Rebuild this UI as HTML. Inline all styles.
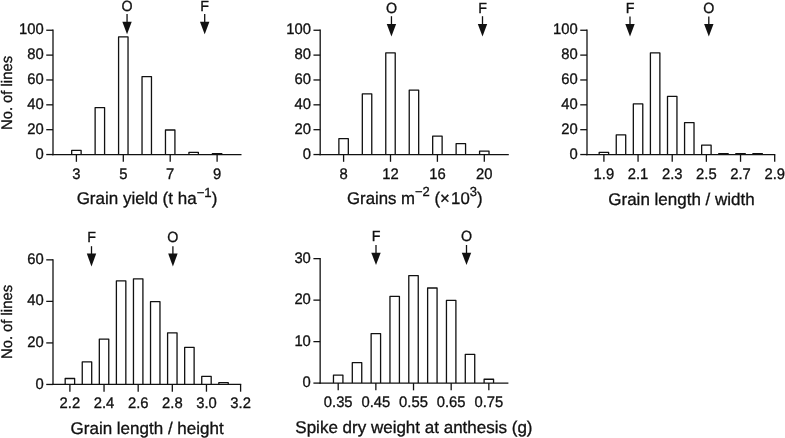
<!DOCTYPE html>
<html lang="en">
<head>
<meta charset="utf-8">
<title>Histograms</title>
<style>
html,body{margin:0;padding:0;background:#fff;}
body{width:785px;height:438px;overflow:hidden;}
svg{display:block;}
svg text{font-family:"Liberation Sans", Arial, sans-serif;fill:#111;stroke:#111;stroke-width:0.32px;text-rendering:geometricPrecision;}
svg line,svg polyline{stroke:#111;}
</style>
</head>
<body>
<svg width="785" height="438" viewBox="0 0 785 438">
<rect x="0" y="0" width="785" height="438" fill="#fff" stroke="none" style="stroke:none"/>
<polyline points="71.68,154.55 71.68,150.38 81.13,150.38 81.13,154.55" fill="#fff" stroke-width="1.3" stroke-linejoin="round"/>
<polyline points="95.13,154.55 95.13,107.62 104.58,107.62 104.58,154.55" fill="#fff" stroke-width="1.3" stroke-linejoin="round"/>
<polyline points="118.58,154.55 118.58,36.89 128.03,36.89 128.03,154.55" fill="#fff" stroke-width="1.3" stroke-linejoin="round"/>
<polyline points="142.03,154.55 142.03,76.54 151.47,76.54 151.47,154.55" fill="#fff" stroke-width="1.3" stroke-linejoin="round"/>
<polyline points="165.47,154.55 165.47,129.99 174.92,129.99 174.92,154.55" fill="#fff" stroke-width="1.3" stroke-linejoin="round"/>
<polyline points="188.93,154.55 188.93,152.36 198.38,152.36 198.38,154.55" fill="#fff" stroke-width="1.3" stroke-linejoin="round"/>
<polyline points="212.38,154.55 212.38,153.61 221.82,153.61 221.82,154.55" fill="#fff" stroke-width="1.3" stroke-linejoin="round"/>
<line x1="53.00" y1="29.60" x2="53.00" y2="155.20" stroke-width="1.3"/>
<line x1="46.25" y1="154.55" x2="53.00" y2="154.55" stroke-width="1.3"/>
<text transform="translate(43.70,158.65) scale(0.968,1)" font-size="15.3" text-anchor="end" >0</text>
<line x1="46.25" y1="129.69" x2="53.00" y2="129.69" stroke-width="1.3"/>
<text transform="translate(43.70,133.79) scale(0.968,1)" font-size="15.3" text-anchor="end" >20</text>
<line x1="46.25" y1="104.83" x2="53.00" y2="104.83" stroke-width="1.3"/>
<text transform="translate(43.70,108.93) scale(0.968,1)" font-size="15.3" text-anchor="end" >40</text>
<line x1="46.25" y1="79.97" x2="53.00" y2="79.97" stroke-width="1.3"/>
<text transform="translate(43.70,84.07) scale(0.968,1)" font-size="15.3" text-anchor="end" >60</text>
<line x1="46.25" y1="55.11" x2="53.00" y2="55.11" stroke-width="1.3"/>
<text transform="translate(43.70,59.21) scale(0.968,1)" font-size="15.3" text-anchor="end" >80</text>
<line x1="46.25" y1="30.25" x2="53.00" y2="30.25" stroke-width="1.3"/>
<text transform="translate(43.70,34.35) scale(0.968,1)" font-size="15.3" text-anchor="end" >100</text>
<line x1="52.35" y1="154.55" x2="241.50" y2="154.55" stroke-width="1.3"/>
<line x1="76.40" y1="154.55" x2="76.40" y2="161.80" stroke-width="1.3"/>
<text transform="translate(76.40,178.50) scale(0.968,1)" font-size="15.3" text-anchor="middle" >3</text>
<line x1="123.30" y1="154.55" x2="123.30" y2="161.80" stroke-width="1.3"/>
<text transform="translate(123.30,178.50) scale(0.968,1)" font-size="15.3" text-anchor="middle" >5</text>
<line x1="170.20" y1="154.55" x2="170.20" y2="161.80" stroke-width="1.3"/>
<text transform="translate(170.20,178.50) scale(0.968,1)" font-size="15.3" text-anchor="middle" >7</text>
<line x1="217.10" y1="154.55" x2="217.10" y2="161.80" stroke-width="1.3"/>
<text transform="translate(217.10,178.50) scale(0.968,1)" font-size="15.3" text-anchor="middle" >9</text>
<text transform="translate(147.00,203.90) scale(1.0,1)" font-size="17" text-anchor="middle" >Grain yield (t ha<tspan font-size="13.2" dy="-7.2">−1</tspan><tspan dy="7.2">)</tspan></text>
<text transform="translate(127.05,11.45) scale(0.97,1)" font-size="14.7" text-anchor="middle" >O</text>
<line x1="127.05" y1="13.90" x2="127.05" y2="22.70" stroke-width="1.3"/>
<polygon points="122.35,21.70 131.75,21.70 127.05,34.30" fill="#111" stroke="none"/>
<text transform="translate(204.70,11.45) scale(0.97,1)" font-size="14.7" text-anchor="middle" >F</text>
<line x1="204.70" y1="13.90" x2="204.70" y2="22.70" stroke-width="1.3"/>
<polygon points="200.00,21.70 209.40,21.70 204.70,34.30" fill="#111" stroke="none"/>
<text transform="translate(11.60,93.00) rotate(-90) scale(0.968,1)" font-size="15.3" text-anchor="middle">No. of lines</text>
<polyline points="338.88,154.55 338.88,138.69 348.32,138.69 348.32,154.55" fill="#fff" stroke-width="1.3" stroke-linejoin="round"/>
<polyline points="362.32,154.55 362.32,93.94 371.77,93.94 371.77,154.55" fill="#fff" stroke-width="1.3" stroke-linejoin="round"/>
<polyline points="385.77,154.55 385.77,52.92 395.22,52.92 395.22,154.55" fill="#fff" stroke-width="1.3" stroke-linejoin="round"/>
<polyline points="409.23,154.55 409.23,90.21 418.68,90.21 418.68,154.55" fill="#fff" stroke-width="1.3" stroke-linejoin="round"/>
<polyline points="432.68,154.55 432.68,136.21 442.12,136.21 442.12,154.55" fill="#fff" stroke-width="1.3" stroke-linejoin="round"/>
<polyline points="456.12,154.55 456.12,143.66 465.57,143.66 465.57,154.55" fill="#fff" stroke-width="1.3" stroke-linejoin="round"/>
<polyline points="479.57,154.55 479.57,151.12 489.02,151.12 489.02,154.55" fill="#fff" stroke-width="1.3" stroke-linejoin="round"/>
<line x1="320.20" y1="29.60" x2="320.20" y2="155.20" stroke-width="1.3"/>
<line x1="313.45" y1="154.55" x2="320.20" y2="154.55" stroke-width="1.3"/>
<text transform="translate(310.90,158.65) scale(0.968,1)" font-size="15.3" text-anchor="end" >0</text>
<line x1="313.45" y1="129.69" x2="320.20" y2="129.69" stroke-width="1.3"/>
<text transform="translate(310.90,133.79) scale(0.968,1)" font-size="15.3" text-anchor="end" >20</text>
<line x1="313.45" y1="104.83" x2="320.20" y2="104.83" stroke-width="1.3"/>
<text transform="translate(310.90,108.93) scale(0.968,1)" font-size="15.3" text-anchor="end" >40</text>
<line x1="313.45" y1="79.97" x2="320.20" y2="79.97" stroke-width="1.3"/>
<text transform="translate(310.90,84.07) scale(0.968,1)" font-size="15.3" text-anchor="end" >60</text>
<line x1="313.45" y1="55.11" x2="320.20" y2="55.11" stroke-width="1.3"/>
<text transform="translate(310.90,59.21) scale(0.968,1)" font-size="15.3" text-anchor="end" >80</text>
<line x1="313.45" y1="30.25" x2="320.20" y2="30.25" stroke-width="1.3"/>
<text transform="translate(310.90,34.35) scale(0.968,1)" font-size="15.3" text-anchor="end" >100</text>
<line x1="319.55" y1="154.55" x2="508.80" y2="154.55" stroke-width="1.3"/>
<line x1="343.60" y1="154.55" x2="343.60" y2="161.80" stroke-width="1.3"/>
<text transform="translate(343.60,178.50) scale(0.968,1)" font-size="15.3" text-anchor="middle" >8</text>
<line x1="390.50" y1="154.55" x2="390.50" y2="161.80" stroke-width="1.3"/>
<text transform="translate(390.50,178.50) scale(0.968,1)" font-size="15.3" text-anchor="middle" >12</text>
<line x1="437.40" y1="154.55" x2="437.40" y2="161.80" stroke-width="1.3"/>
<text transform="translate(437.40,178.50) scale(0.968,1)" font-size="15.3" text-anchor="middle" >16</text>
<line x1="484.30" y1="154.55" x2="484.30" y2="161.80" stroke-width="1.3"/>
<text transform="translate(484.30,178.50) scale(0.968,1)" font-size="15.3" text-anchor="middle" >20</text>
<text transform="translate(414.80,203.50) scale(0.985,1)" font-size="17" text-anchor="middle" >Grains m<tspan font-size="13.2" dy="-7.2">−2</tspan><tspan dy="7.2"> (×<tspan dx="1.3">10</tspan></tspan><tspan font-size="13.2" dy="-7.2">3</tspan><tspan dy="7.2">)</tspan></text>
<text transform="translate(391.45,13.30) scale(0.97,1)" font-size="14.7" text-anchor="middle" >O</text>
<line x1="391.45" y1="16.20" x2="391.45" y2="25.00" stroke-width="1.3"/>
<polygon points="386.75,24.00 396.15,24.00 391.45,36.50" fill="#111" stroke="none"/>
<text transform="translate(482.50,13.30) scale(0.97,1)" font-size="14.7" text-anchor="middle" >F</text>
<line x1="482.50" y1="16.20" x2="482.50" y2="25.00" stroke-width="1.3"/>
<polygon points="477.80,24.00 487.20,24.00 482.50,36.50" fill="#111" stroke="none"/>
<polyline points="599.17,154.55 599.17,152.36 608.62,152.36 608.62,154.55" fill="#fff" stroke-width="1.3" stroke-linejoin="round"/>
<polyline points="616.25,154.55 616.25,134.96 625.71,134.96 625.71,154.55" fill="#fff" stroke-width="1.3" stroke-linejoin="round"/>
<polyline points="633.33,154.55 633.33,103.89 642.78,103.89 642.78,154.55" fill="#fff" stroke-width="1.3" stroke-linejoin="round"/>
<polyline points="650.41,154.55 650.41,52.92 659.87,52.92 659.87,154.55" fill="#fff" stroke-width="1.3" stroke-linejoin="round"/>
<polyline points="667.50,154.55 667.50,96.43 676.95,96.43 676.95,154.55" fill="#fff" stroke-width="1.3" stroke-linejoin="round"/>
<polyline points="684.57,154.55 684.57,122.53 694.02,122.53 694.02,154.55" fill="#fff" stroke-width="1.3" stroke-linejoin="round"/>
<polyline points="701.65,154.55 701.65,145.15 711.11,145.15 711.11,154.55" fill="#fff" stroke-width="1.3" stroke-linejoin="round"/>
<polyline points="718.73,154.55 718.73,153.61 728.18,153.61 728.18,154.55" fill="#fff" stroke-width="1.3" stroke-linejoin="round"/>
<polyline points="735.81,154.55 735.81,153.61 745.26,153.61 745.26,154.55" fill="#fff" stroke-width="1.3" stroke-linejoin="round"/>
<polyline points="752.89,154.55 752.89,153.61 762.34,153.61 762.34,154.55" fill="#fff" stroke-width="1.3" stroke-linejoin="round"/>
<line x1="587.00" y1="29.60" x2="587.00" y2="155.20" stroke-width="1.3"/>
<line x1="580.25" y1="154.55" x2="587.00" y2="154.55" stroke-width="1.3"/>
<text transform="translate(577.70,158.65) scale(0.968,1)" font-size="15.3" text-anchor="end" >0</text>
<line x1="580.25" y1="129.69" x2="587.00" y2="129.69" stroke-width="1.3"/>
<text transform="translate(577.70,133.79) scale(0.968,1)" font-size="15.3" text-anchor="end" >20</text>
<line x1="580.25" y1="104.83" x2="587.00" y2="104.83" stroke-width="1.3"/>
<text transform="translate(577.70,108.93) scale(0.968,1)" font-size="15.3" text-anchor="end" >40</text>
<line x1="580.25" y1="79.97" x2="587.00" y2="79.97" stroke-width="1.3"/>
<text transform="translate(577.70,84.07) scale(0.968,1)" font-size="15.3" text-anchor="end" >60</text>
<line x1="580.25" y1="55.11" x2="587.00" y2="55.11" stroke-width="1.3"/>
<text transform="translate(577.70,59.21) scale(0.968,1)" font-size="15.3" text-anchor="end" >80</text>
<line x1="580.25" y1="30.25" x2="587.00" y2="30.25" stroke-width="1.3"/>
<text transform="translate(577.70,34.35) scale(0.968,1)" font-size="15.3" text-anchor="end" >100</text>
<line x1="586.35" y1="154.55" x2="775.25" y2="154.55" stroke-width="1.3"/>
<line x1="603.90" y1="154.55" x2="603.90" y2="161.80" stroke-width="1.3"/>
<text transform="translate(603.90,178.50) scale(0.968,1)" font-size="15.3" text-anchor="middle" >1.9</text>
<line x1="638.06" y1="154.55" x2="638.06" y2="161.80" stroke-width="1.3"/>
<text transform="translate(638.06,178.50) scale(0.968,1)" font-size="15.3" text-anchor="middle" >2.1</text>
<line x1="672.22" y1="154.55" x2="672.22" y2="161.80" stroke-width="1.3"/>
<text transform="translate(672.22,178.50) scale(0.968,1)" font-size="15.3" text-anchor="middle" >2.3</text>
<line x1="706.38" y1="154.55" x2="706.38" y2="161.80" stroke-width="1.3"/>
<text transform="translate(706.38,178.50) scale(0.968,1)" font-size="15.3" text-anchor="middle" >2.5</text>
<line x1="740.54" y1="154.55" x2="740.54" y2="161.80" stroke-width="1.3"/>
<text transform="translate(740.54,178.50) scale(0.968,1)" font-size="15.3" text-anchor="middle" >2.7</text>
<line x1="774.70" y1="154.55" x2="774.70" y2="161.80" stroke-width="1.3"/>
<text transform="translate(774.70,178.50) scale(0.968,1)" font-size="15.3" text-anchor="middle" >2.9</text>
<text transform="translate(681.50,204.80) scale(1.0,1)" font-size="17" text-anchor="middle" >Grain length / width</text>
<text transform="translate(630.00,13.30) scale(0.97,1)" font-size="14.7" text-anchor="middle" >F</text>
<line x1="630.00" y1="16.50" x2="630.00" y2="25.00" stroke-width="1.3"/>
<polygon points="625.30,24.00 634.70,24.00 630.00,36.50" fill="#111" stroke="none"/>
<text transform="translate(708.80,13.30) scale(0.97,1)" font-size="14.7" text-anchor="middle" >O</text>
<line x1="708.80" y1="16.50" x2="708.80" y2="25.00" stroke-width="1.3"/>
<polygon points="704.10,24.00 713.50,24.00 708.80,36.50" fill="#111" stroke="none"/>
<polyline points="65.18,384.45 65.18,378.52 74.63,378.52 74.63,384.45" fill="#fff" stroke-width="1.3" stroke-linejoin="round"/>
<polyline points="82.25,384.45 82.25,361.91 91.70,361.91 91.70,384.45" fill="#fff" stroke-width="1.3" stroke-linejoin="round"/>
<polyline points="99.32,384.45 99.32,339.06 108.77,339.06 108.77,384.45" fill="#fff" stroke-width="1.3" stroke-linejoin="round"/>
<polyline points="116.39,384.45 116.39,280.92 125.84,280.92 125.84,384.45" fill="#fff" stroke-width="1.3" stroke-linejoin="round"/>
<polyline points="133.46,384.45 133.46,278.84 142.91,278.84 142.91,384.45" fill="#fff" stroke-width="1.3" stroke-linejoin="round"/>
<polyline points="150.53,384.45 150.53,301.68 159.97,301.68 159.97,384.45" fill="#fff" stroke-width="1.3" stroke-linejoin="round"/>
<polyline points="167.59,384.45 167.59,332.83 177.04,332.83 177.04,384.45" fill="#fff" stroke-width="1.3" stroke-linejoin="round"/>
<polyline points="184.67,384.45 184.67,347.37 194.12,347.37 194.12,384.45" fill="#fff" stroke-width="1.3" stroke-linejoin="round"/>
<polyline points="201.74,384.45 201.74,376.44 211.19,376.44 211.19,384.45" fill="#fff" stroke-width="1.3" stroke-linejoin="round"/>
<polyline points="218.81,384.45 218.81,382.67 228.25,382.67 228.25,384.45" fill="#fff" stroke-width="1.3" stroke-linejoin="round"/>
<line x1="53.00" y1="259.20" x2="53.00" y2="385.10" stroke-width="1.3"/>
<line x1="46.25" y1="384.45" x2="53.00" y2="384.45" stroke-width="1.3"/>
<text transform="translate(43.70,388.55) scale(0.968,1)" font-size="15.3" text-anchor="end" >0</text>
<line x1="46.25" y1="342.92" x2="53.00" y2="342.92" stroke-width="1.3"/>
<text transform="translate(43.70,347.02) scale(0.968,1)" font-size="15.3" text-anchor="end" >20</text>
<line x1="46.25" y1="301.38" x2="53.00" y2="301.38" stroke-width="1.3"/>
<text transform="translate(43.70,305.48) scale(0.968,1)" font-size="15.3" text-anchor="end" >40</text>
<line x1="46.25" y1="259.85" x2="53.00" y2="259.85" stroke-width="1.3"/>
<text transform="translate(43.70,263.95) scale(0.968,1)" font-size="15.3" text-anchor="end" >60</text>
<line x1="52.35" y1="384.45" x2="241.25" y2="384.45" stroke-width="1.3"/>
<line x1="69.90" y1="384.45" x2="69.90" y2="391.70" stroke-width="1.3"/>
<text transform="translate(69.90,408.00) scale(0.968,1)" font-size="15.3" text-anchor="middle" >2.2</text>
<line x1="104.04" y1="384.45" x2="104.04" y2="391.70" stroke-width="1.3"/>
<text transform="translate(104.04,408.00) scale(0.968,1)" font-size="15.3" text-anchor="middle" >2.4</text>
<line x1="138.18" y1="384.45" x2="138.18" y2="391.70" stroke-width="1.3"/>
<text transform="translate(138.18,408.00) scale(0.968,1)" font-size="15.3" text-anchor="middle" >2.6</text>
<line x1="172.32" y1="384.45" x2="172.32" y2="391.70" stroke-width="1.3"/>
<text transform="translate(172.32,408.00) scale(0.968,1)" font-size="15.3" text-anchor="middle" >2.8</text>
<line x1="206.46" y1="384.45" x2="206.46" y2="391.70" stroke-width="1.3"/>
<text transform="translate(206.46,408.00) scale(0.968,1)" font-size="15.3" text-anchor="middle" >3.0</text>
<line x1="240.60" y1="384.45" x2="240.60" y2="391.70" stroke-width="1.3"/>
<text transform="translate(240.60,408.00) scale(0.968,1)" font-size="15.3" text-anchor="middle" >3.2</text>
<text transform="translate(147.10,434.20) scale(1.0,1)" font-size="17" text-anchor="middle" >Grain length / height</text>
<text transform="translate(91.50,242.30) scale(0.97,1)" font-size="14.7" text-anchor="middle" >F</text>
<line x1="91.50" y1="246.20" x2="91.50" y2="254.60" stroke-width="1.3"/>
<polygon points="86.80,253.60 96.20,253.60 91.50,266.40" fill="#111" stroke="none"/>
<text transform="translate(172.90,242.30) scale(0.97,1)" font-size="14.7" text-anchor="middle" >O</text>
<line x1="172.90" y1="246.20" x2="172.90" y2="254.60" stroke-width="1.3"/>
<polygon points="168.20,253.60 177.60,253.60 172.90,266.40" fill="#111" stroke="none"/>
<text transform="translate(11.60,322.00) rotate(-90) scale(0.968,1)" font-size="15.3" text-anchor="middle">No. of lines</text>
<polyline points="333.47,383.10 333.47,375.10 342.92,375.10 342.92,383.10" fill="#fff" stroke-width="1.3" stroke-linejoin="round"/>
<polyline points="352.30,383.10 352.30,362.66 361.75,362.66 361.75,383.10" fill="#fff" stroke-width="1.3" stroke-linejoin="round"/>
<polyline points="371.13,383.10 371.13,333.62 380.58,333.62 380.58,383.10" fill="#fff" stroke-width="1.3" stroke-linejoin="round"/>
<polyline points="389.96,383.10 389.96,296.28 399.41,296.28 399.41,383.10" fill="#fff" stroke-width="1.3" stroke-linejoin="round"/>
<polyline points="408.79,383.10 408.79,275.54 418.24,275.54 418.24,383.10" fill="#fff" stroke-width="1.3" stroke-linejoin="round"/>
<polyline points="427.62,383.10 427.62,287.99 437.07,287.99 437.07,383.10" fill="#fff" stroke-width="1.3" stroke-linejoin="round"/>
<polyline points="446.45,383.10 446.45,300.43 455.90,300.43 455.90,383.10" fill="#fff" stroke-width="1.3" stroke-linejoin="round"/>
<polyline points="465.28,383.10 465.28,354.36 474.73,354.36 474.73,383.10" fill="#fff" stroke-width="1.3" stroke-linejoin="round"/>
<polyline points="484.11,383.10 484.11,379.25 493.56,379.25 493.56,383.10" fill="#fff" stroke-width="1.3" stroke-linejoin="round"/>
<line x1="320.15" y1="258.00" x2="320.15" y2="383.75" stroke-width="1.3"/>
<line x1="313.40" y1="383.10" x2="320.15" y2="383.10" stroke-width="1.3"/>
<text transform="translate(310.85,387.20) scale(0.968,1)" font-size="15.3" text-anchor="end" >0</text>
<line x1="313.40" y1="341.62" x2="320.15" y2="341.62" stroke-width="1.3"/>
<text transform="translate(310.85,345.72) scale(0.968,1)" font-size="15.3" text-anchor="end" >10</text>
<line x1="313.40" y1="300.13" x2="320.15" y2="300.13" stroke-width="1.3"/>
<text transform="translate(310.85,304.23) scale(0.968,1)" font-size="15.3" text-anchor="end" >20</text>
<line x1="313.40" y1="258.65" x2="320.15" y2="258.65" stroke-width="1.3"/>
<text transform="translate(310.85,262.75) scale(0.968,1)" font-size="15.3" text-anchor="end" >30</text>
<line x1="319.50" y1="383.10" x2="508.40" y2="383.10" stroke-width="1.3"/>
<line x1="338.20" y1="383.10" x2="338.20" y2="390.35" stroke-width="1.3"/>
<text transform="translate(338.20,407.20) scale(0.968,1)" font-size="15.3" text-anchor="middle" >0.35</text>
<line x1="375.86" y1="383.10" x2="375.86" y2="390.35" stroke-width="1.3"/>
<text transform="translate(375.86,407.20) scale(0.968,1)" font-size="15.3" text-anchor="middle" >0.45</text>
<line x1="413.52" y1="383.10" x2="413.52" y2="390.35" stroke-width="1.3"/>
<text transform="translate(413.52,407.20) scale(0.968,1)" font-size="15.3" text-anchor="middle" >0.55</text>
<line x1="451.18" y1="383.10" x2="451.18" y2="390.35" stroke-width="1.3"/>
<text transform="translate(451.18,407.20) scale(0.968,1)" font-size="15.3" text-anchor="middle" >0.65</text>
<line x1="488.84" y1="383.10" x2="488.84" y2="390.35" stroke-width="1.3"/>
<text transform="translate(488.84,407.20) scale(0.968,1)" font-size="15.3" text-anchor="middle" >0.75</text>
<text transform="translate(413.90,432.70) scale(1.0,1)" font-size="17" text-anchor="middle" >Spike dry weight at anthesis (g)</text>
<text transform="translate(376.00,241.40) scale(0.97,1)" font-size="14.7" text-anchor="middle" >F</text>
<line x1="376.00" y1="245.00" x2="376.00" y2="253.70" stroke-width="1.3"/>
<polygon points="371.30,252.70 380.70,252.70 376.00,265.00" fill="#111" stroke="none"/>
<text transform="translate(466.50,241.40) scale(0.97,1)" font-size="14.7" text-anchor="middle" >O</text>
<line x1="466.50" y1="245.00" x2="466.50" y2="253.70" stroke-width="1.3"/>
<polygon points="461.80,252.70 471.20,252.70 466.50,265.00" fill="#111" stroke="none"/>
</svg>
</body>
</html>
